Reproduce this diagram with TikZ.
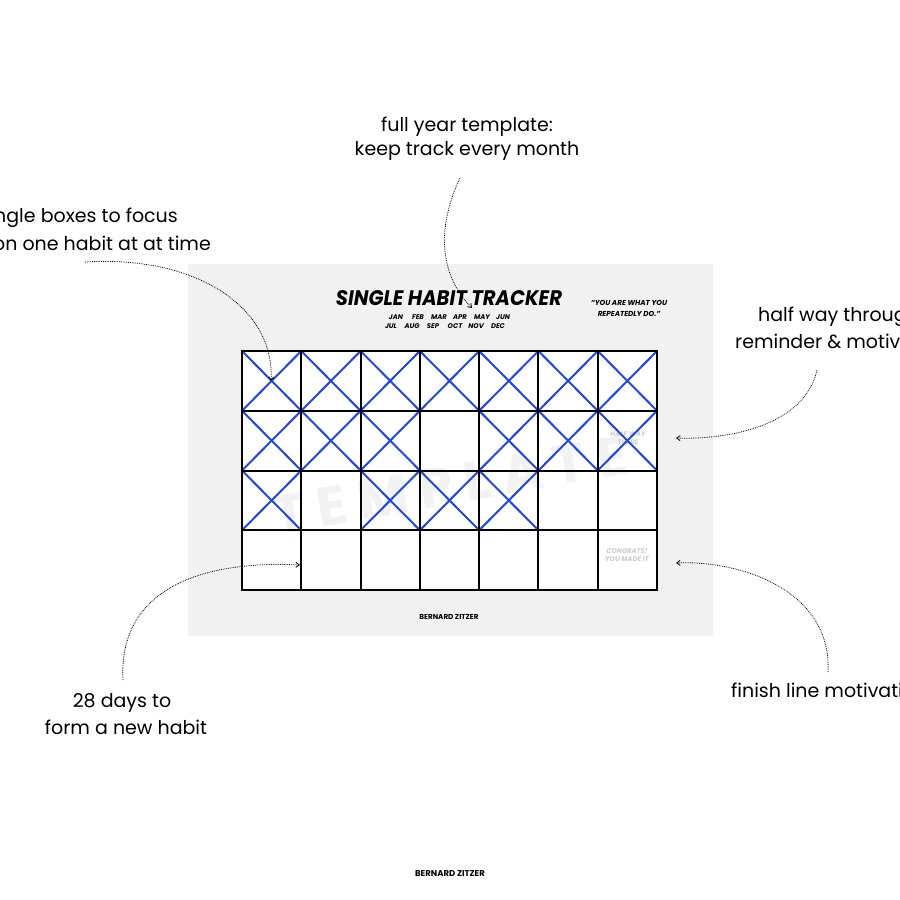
\documentclass[tikz,border=0pt]{standalone}
\usepackage{fontspec}
\setmainfont{Poppins}
\usetikzlibrary{arrows.meta}
\definecolor{paper}{HTML}{F1F1F1}
\definecolor{xblue}{HTML}{2347D8}
\tikzset{
  ann/.style={font=\fontsize{19}{22}\selectfont, inner sep=0pt},
  small/.style={font=\bfseries\itshape\fontsize{6.8}{7.5}\selectfont, inner sep=0pt},
  dotarrow/.style={densely dotted, line width=0.8pt, -{Straight Barb[length=3.5pt,width=5pt]}},
  cross/.style={draw=xblue, line width=2pt}
}
\begin{document}
\begin{tikzpicture}[x=1pt,y=-1pt]
\useasboundingbox (0,0) rectangle (900,900);
\fill[white] (0,0) rectangle (900,900);
\begin{scope}
\clip (0,0) rectangle (900,900);
\fill[paper] (188,264) rectangle (713,636);
% grid
\foreach \r in {0,...,3}{
  \foreach \c in {0,...,6}{
    \fill[white] (242+\c*59.29,351+\r*59.75) rectangle ++(59.29,59.75);
  }}
\node[font=\fontsize{55}{55}\selectfont\bfseries, text=black!5, rotate=10] (wm) at (450,485) {T E M P L A T E};
\node[small, text=black!20, align=center] (half) at (628,438) {HALF WAY\\THERE};
\node[small, text=black!20, align=center] (cong) at (627,555) {CONGRATS!\\YOU MADE IT};
\foreach \r/\c in {0/0,0/1,0/2,0/3,0/4,0/5,0/6,1/0,1/1,1/2,1/4,1/5,1/6,2/0,2/2,2/3,2/4}{
  \draw[cross] (242+\c*59.29,351+\r*59.75) -- ++(59.29,59.75);
  \draw[cross] (242+\c*59.29+59.29,351+\r*59.75) -- ++(-59.29,59.75);
}
\foreach \r in {0,...,3}{
  \foreach \c in {0,...,6}{
    \draw[black, line width=2pt] (242+\c*59.29,351+\r*59.75) rectangle ++(59.29,59.75);
  }}
% header
\node[inner sep=0pt] (title) at (449,298) {\resizebox{226pt}{15pt}{\bfseries\itshape SINGLE HABIT TRACKER}};
\foreach \m/\x in {JAN/396,FEB/418,MAR/439,APR/460,MAY/482,JUN/503}{\node[small] (m\m) at (\x,317) {\m};}
\foreach \m/\x in {JUL/391,AUG/412,SEP/433,OCT/455,NOV/476,DEC/498}{\node[small] (m\m) at (\x,326) {\m};}
\node[small, align=center, font=\bfseries\itshape\fontsize{7.2}{11}\selectfont] (quote) at (629,308) {“YOU ARE WHAT YOU\\REPEATEDLY DO.”};
\node[small, font=\bfseries\fontsize{7.2}{8}\selectfont] (inner) at (449,617) {BERNARD ZITZER};
\node[small, font=\bfseries\fontsize{8.5}{9}\selectfont] (footer) at (450,874) {BERNARD ZITZER};
% annotations
\node[ann] (t1) at (467,127) {full year template:};
\node[ann] (t2) at (467,151) {keep track every month};
\node[ann, anchor=east] (l1) at (178,218) {single boxes to focus};
\node[ann, anchor=east] (l2) at (211,243) {on one habit at at time};
\node[ann, anchor=west] (r1) at (758,317) {half way through};
\node[ann, anchor=west] (r2) at (735,341) {reminder \& motivation};
\node[ann, anchor=west] (r3) at (731,690) {finish line motivation};
\node[ann] (b1) at (122,703) {28 days to};
\node[ann] (b2) at (126,727) {form a new habit};
% connectors
\coordinate (a1s) at (460,178); \coordinate (a1e) at (472,308);
\draw[dotarrow] (a1s) .. controls (440,220) and (435,270) .. (a1e);
\coordinate (a2s) at (85,262); \coordinate (a2e) at (271,381);
\draw[dotarrow] (a2s) .. controls (200,255) and (275,310) .. (a2e);
\coordinate (a3s) at (817,370); \coordinate (a3e) at (676,438);
\draw[dotarrow] (a3s) .. controls (805,425) and (730,440) .. (a3e);
\coordinate (a4s) at (123,680); \coordinate (a4e) at (300,565);
\draw[dotarrow] (a4s) .. controls (118,590) and (200,560) .. (a4e);
\coordinate (a5s) at (828,672); \coordinate (a5e) at (676,563);
\draw[dotarrow] (a5s) .. controls (832,590) and (740,560) .. (a5e);
\end{scope}
\end{tikzpicture}
\end{document}
